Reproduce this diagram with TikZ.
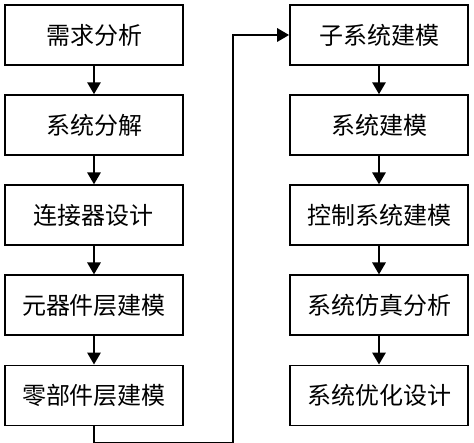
\documentclass[tikz,border=0pt]{standalone}
\usepackage{fontspec}
\setmainfont{Noto Sans CJK SC}
\usetikzlibrary{positioning}
\usetikzlibrary{arrows.meta}

\tikzset{
  stage/.style={draw, line width=1.6pt, minimum width=178pt, minimum height=60pt,
    inner sep=0pt, font=\fontsize{24}{28}\selectfont},
  flow/.style={line width=2.8pt, -{Triangle[length=12pt,width=13pt]}}
}

\begin{document}
\begin{tikzpicture}[node distance=28.5pt]
\useasboundingbox (0,0) rectangle (474pt,-443pt);

% left column
\node[stage] (need) at (94pt,-35pt) {需求分析};
\node[stage, below=of need] (split) {系统分解};
\node[stage, below=of split] (conn) {连接器设计};
\node[stage, below=of conn] (comp) {元器件层建模};
\node[stage, below=of comp] (part) {零部件层建模};

% right column
\node[stage] (sub) at (379pt,-35pt) {子系统建模};
\node[stage, below=of sub] (sys) {系统建模};
\node[stage, below=of sys] (ctrl) {控制系统建模};
\node[stage, below=of ctrl] (sim) {系统仿真分析};
\node[stage, below=of sim] (opt) {系统优化设计};

% arrows
\foreach \a/\b in {need/split, split/conn, conn/comp, comp/part,
                   sub/sys, sys/ctrl, ctrl/sim, sim/opt}
  \draw[flow] (\a) -- (\b);

% link between columns
\coordinate (bend) at (233pt,-200pt);
\draw[flow] (part.south) -- ++(0,-17pt) -| (bend) |- (sub.west);

\end{tikzpicture}
\end{document}
